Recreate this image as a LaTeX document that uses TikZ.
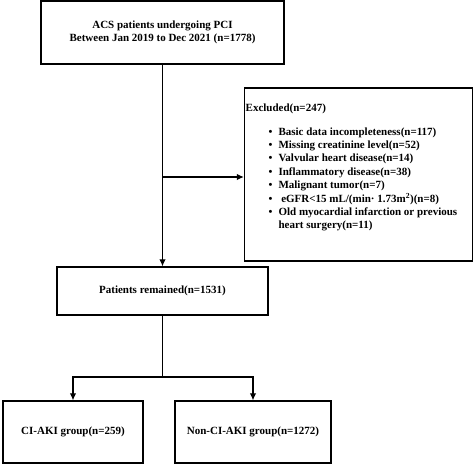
\documentclass[tikz,border=0pt]{standalone}
\usepackage{fontspec}
\setmainfont{Liberation Serif}
\usetikzlibrary{arrows.meta}

\tikzset{
  caja/.style={draw,line width=1.3pt,rectangle,align=center,inner sep=0pt,
    font=\bfseries\fontsize{11}{12.5}\selectfont},
  flecha/.style={line width=1.2pt,-{Latex[length=7pt,width=6.5pt]}},
  linea/.style={line width=1.2pt}
}

\begin{document}
\begin{tikzpicture}[x=1pt,y=-1pt]
    \useasboundingbox (0,0) rectangle (474,466);
    % caja inicial con todos los pacientes
    \node[caja,minimum width=243pt,minimum height=63pt] (todos) at (162.5,32.5)
      {ACS patients undergoing PCI\\Between Jan 2019 to Dec 2021 (n=1778)};
    % caja de excluidos a la derecha, texto aparte
    \node[caja,minimum width=228pt,minimum height=173pt] (excl) at (358.5,174.5) {};
    \node[anchor=north west,inner sep=0pt,align=left,
      font=\bfseries\fontsize{11}{13.4}\selectfont] (excltxt) at (245.5,103.5)
      {Excluded(n=247)\\[11pt]
       \begin{tabular}{@{\hspace{23pt}}l@{\hspace{6pt}}l@{}}
       \textbullet & Basic data incompleteness(n=117)\\
       \textbullet & Missing creatinine level(n=52)\\
       \textbullet & Valvular heart disease(n=14)\\
       \textbullet & Inflammatory disease(n=38)\\
       \textbullet & Malignant tumor(n=7)\\
       \textbullet & \ eGFR<15 mL/(min· 1.73m\textsuperscript{2})(n=8)\\
       \textbullet & Old myocardial infarction or previous\\
                   & heart surgery(n=11)
       \end{tabular}};
    % pacientes que quedan
    \node[caja,minimum width=211pt,minimum height=48pt] (resto) at (162.5,291)
      {Patients remained(n=1531)};
    % los dos grupos abajo
    \node[caja,minimum width=140pt,minimum height=62pt] (ciaki) at (73,432)
      {CI-AKI group(n=259)};
    \node[caja,minimum width=156pt,minimum height=62pt] (nociaki) at (253,432)
      {Non-CI-AKI group(n=1272)};
    % conectores
    \coordinate (rama) at (162.5,177);
    \coordinate (reparto) at (162.5,377);
    \draw[flecha] (todos) -- (resto);
    \draw[flecha] (rama) -- (excl.west |- rama);
    \draw[linea] (resto) -- (reparto);
    \draw[flecha] (reparto) -| (ciaki.north);
    \draw[flecha] (reparto) -| (nociaki.north);
\end{tikzpicture}
\end{document}
